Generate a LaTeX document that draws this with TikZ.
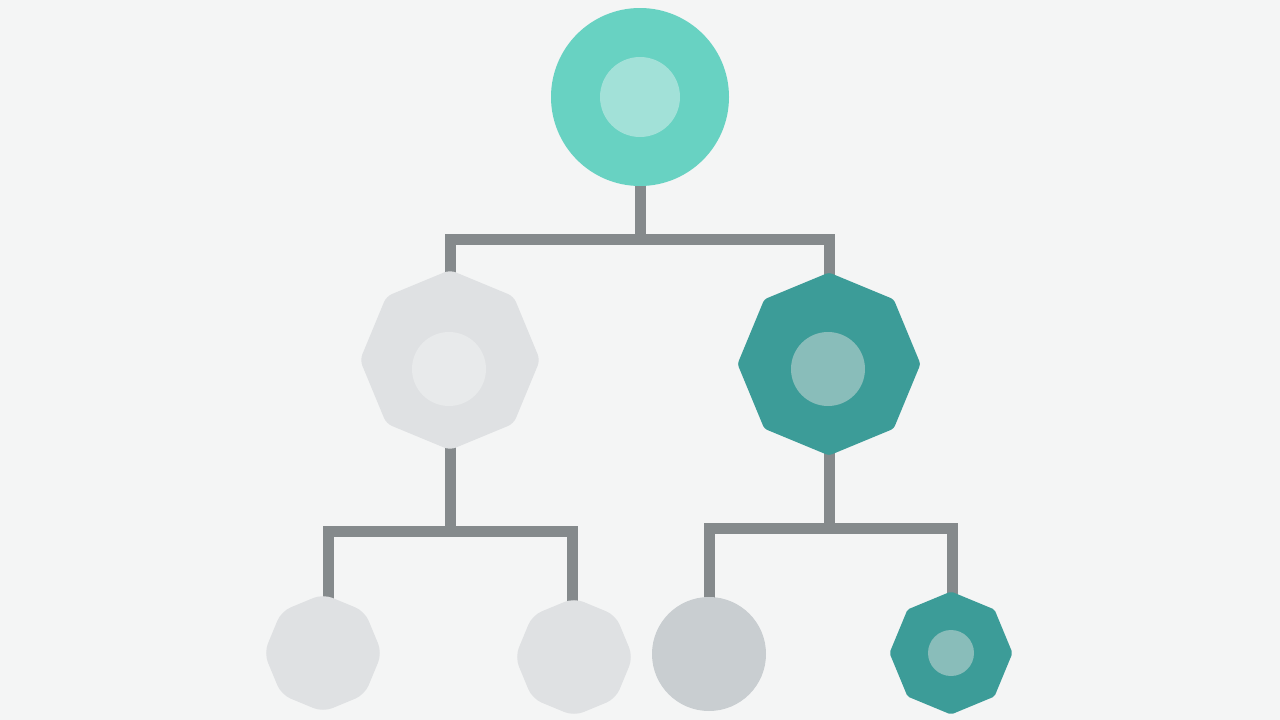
\documentclass[tikz,border=0pt]{standalone}
\usetikzlibrary{shapes.geometric}
\pgfdeclarelayer{bglayer}
\pgfdeclarelayer{links}
\pgfsetlayers{bglayer,links,main}
\definecolor{bgcol}{HTML}{F4F5F5}
\definecolor{tealA}{HTML}{68D2C2}
\definecolor{tealAin}{HTML}{A2E1D8}
\definecolor{tealB}{HTML}{3C9C98}
\definecolor{tealBin}{HTML}{89BDBA}
\definecolor{greyA}{HTML}{DFE1E3}
\definecolor{greyAin}{HTML}{E8EAEB}
\definecolor{greyB}{HTML}{C9CED1}
\definecolor{linkcol}{HTML}{858A8C}
\tikzset{
  x=1pt, y=-1pt,
  circ/.style={circle, inner sep=0pt, draw=none},
  octo/.style={regular polygon, regular polygon sides=8, shape border rotate=22.5, inner sep=0pt, draw=none},
  link/.style={draw=linkcol, line width=11pt, line join=miter}
}
\begin{document}
\begin{tikzpicture}
\begin{pgfonlayer}{bglayer}
\fill[bgcol] (0,0) rectangle (1280,720);
\end{pgfonlayer}
\useasboundingbox (0,0) rectangle (1280,720);
% top
\node[circ, fill=tealA, minimum size=178pt] (top) at (640,97) {};
\node[circ, fill=tealAin, minimum size=80pt] (topin) at (640,97) {};
% middle
\node[octo, fill=greyA, minimum size=180pt, rounded corners=6pt] (L) at (450,360) {};
\node[circ, fill=greyAin, minimum size=74pt] (Lin) at (449,369) {};
\node[octo, fill=tealB, minimum size=183pt, rounded corners=3pt] (R) at (829,364) {};
\node[circ, fill=tealBin, minimum size=74pt] (Rin) at (828,369) {};
% bottom
\node[octo, fill=greyA, minimum size=118pt, rounded corners=10pt] (B1) at (323,653) {};
\node[octo, fill=greyA, minimum size=118pt, rounded corners=10pt] (B2) at (574,657) {};
\node[circ, fill=greyB, minimum size=114pt] (B3) at (709,654) {};
\node[octo, fill=tealB, minimum size=123pt, rounded corners=2pt] (B4) at (951,653) {};
\node[circ, fill=tealBin, minimum size=46pt] (B4in) at (951,653) {};
% bus coordinates
\coordinate (bus1) at (0,239);
\coordinate (bus2) at (0,531.5);
\coordinate (bus3) at (0,528);
\begin{pgfonlayer}{links}
\draw[link] (top.center) -- (top.center |- bus1);
\draw[link] (L.center) -- (L.center |- bus1) -- (R.center |- bus1) -- (R.center);
\draw[link] (L.center) -- (L.center |- bus2);
\draw[link] ([xshift=5pt]B1.center) -- ([xshift=5pt]B1.center |- bus2) -- ([xshift=-2pt]B2.center |- bus2) -- ([xshift=-2pt]B2.center);
\draw[link] (R.center) -- (R.center |- bus3);
\draw[link] (B3.center) -- (B3.center |- bus3) -- ([xshift=1.5pt]B4.center |- bus3) -- ([xshift=1.5pt]B4.center);
\end{pgfonlayer}
\end{tikzpicture}
\end{document}
